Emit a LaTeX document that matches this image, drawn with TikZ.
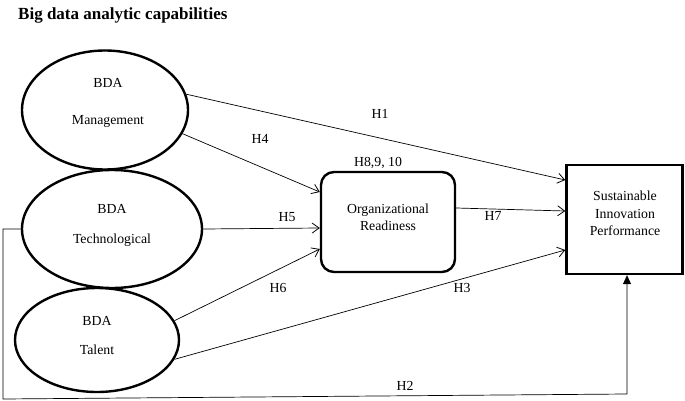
\documentclass[tikz,border=0pt]{standalone}
\usepackage{fontspec}
\setmainfont{Liberation Serif}
\usetikzlibrary{shapes.geometric,arrows.meta,calc}
\begin{document}
\begin{tikzpicture}[x=1pt,y=-1pt,
  ell/.style={draw,ellipse,line width=2.4pt,inner sep=0pt},
  box/.style={draw,rectangle,line width=2.4pt,inner sep=0pt},
  txt/.style={align=center,inner sep=0pt,font=\fontsize{13.8}{17.5}\selectfont},
  lab/.style={inner sep=0pt,font=\fontsize{13.8}{15}\selectfont},
  arr/.style={line width=0.7pt,-{Straight Barb[length=7pt,width=10pt,line width=0.8pt]}},
  arrf/.style={line width=0.7pt,-{Triangle[length=9pt,width=8pt]}}]
\useasboundingbox (0,0) rectangle (685,401);
\node[inner sep=0pt,anchor=west,font=\fontsize{17}{18}\selectfont\bfseries] (title) at (18,15) {Big data analytic capabilities};
% ellipses
\node[ell,minimum width=166pt,minimum height=119pt] (mgt) at (105,110) {};
\node[ell,minimum width=180pt,minimum height=118pt] (tech) at (112,229) {};
\node[ell,minimum width=164pt,minimum height=104pt] (tal) at (97,340) {};
\node[txt] (mgtT) at (108,103) {BDA\\[19pt]Management};
\node[txt] (techT) at (112,225.5) {BDA\\[12pt]Technological};
\node[txt] (talT) at (97,335.5) {BDA\\[12pt]Talent};
% boxes
\node[box,rounded corners=13pt,minimum width=134pt,minimum height=100pt] (org) at (388,222) {};
\node[txt] (orgT) at (388,217.5) {Organizational\\Readiness};
\node[box,minimum width=116pt,minimum height=109pt] (sip) at (624.5,219.5) {};
\node[txt] (sipT) at (625,213.5) {Sustainable\\Innovation\\Performance};
% connectors
\draw[arr] (mgt.11.7) -- ([yshift=39.5pt]sip.west);
\draw[arr] (mgt.-17.5) -- ([yshift=30pt]org.west);
\draw[arr] (tech.east) -- ([yshift=-6pt]org.west);
\draw[arr] (tal.14) -- ([yshift=-27pt]org.west);
\draw[arr] (tal.-14) -- ([yshift=-30.5pt]sip.west);
\draw[arr] ([yshift=14pt]org.east) -- ([yshift=8.5pt]sip.west);
\coordinate (h2a) at (3,229);
\coordinate (h2b) at (3,399);
\coordinate (h2c) at (627,394);
\draw[arrf] (tech.west) -- (h2a) -- (h2b) -- (h2c) -- ([xshift=2.5pt]sip.south);
% labels
\node[lab] (l1) at (380,114) {H1};
\node[lab] (l4) at (260,139) {H4};
\node[lab] (l5) at (287,217) {H5};
\node[lab] (l6) at (278,288) {H6};
\node[lab] (l3) at (462,288) {H3};
\node[lab] (l7) at (493,216) {H7};
\node[lab] (l2) at (405,386) {H2};
\node[lab] (l8) at (378,163) {H8,9, 10};
\end{tikzpicture}
\end{document}
